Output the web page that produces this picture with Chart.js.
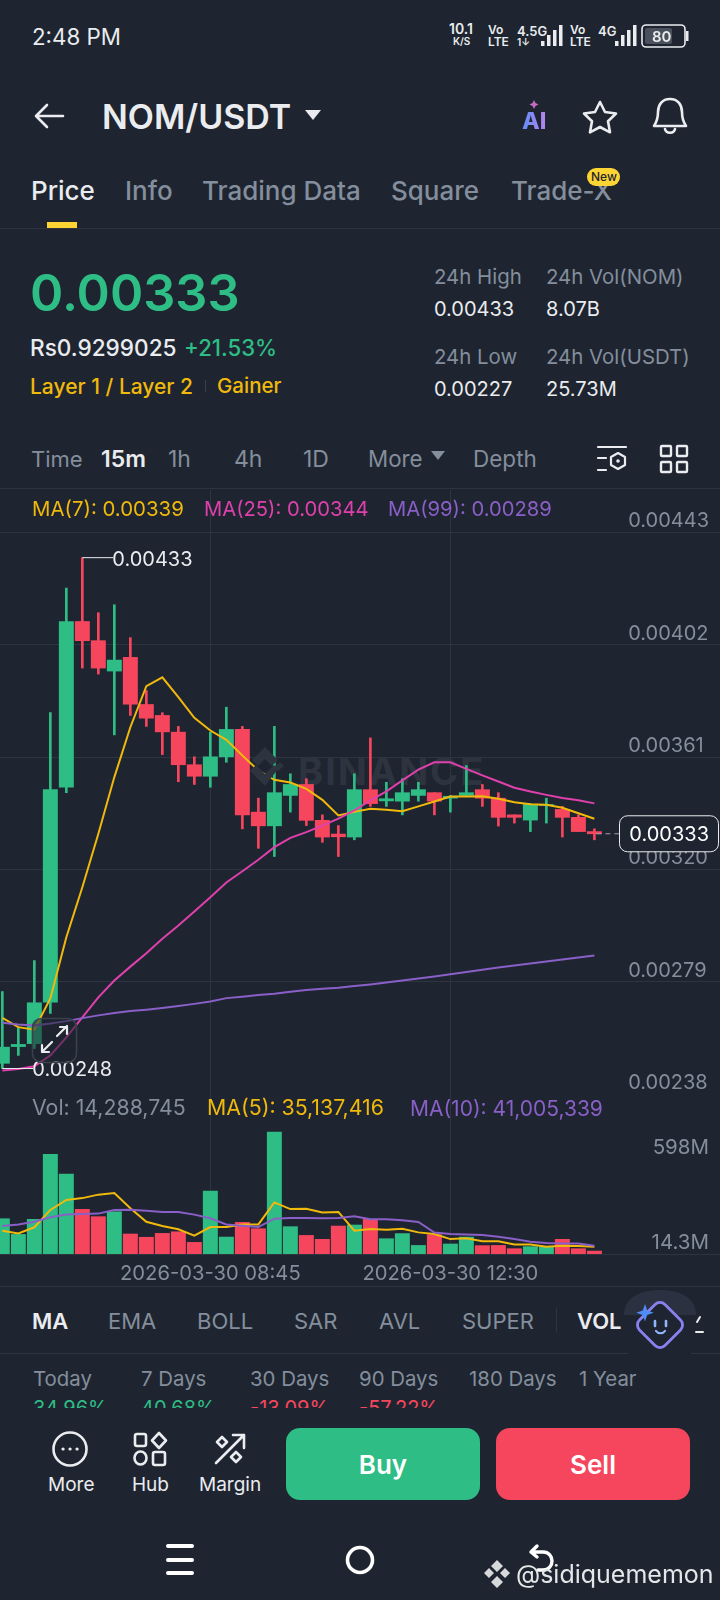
<!DOCTYPE html>
<html>
<head>
<meta charset="utf-8">
<script src="https://cdn.jsdelivr.net/npm/chart.js@4"></script>
<style>
  html, body { margin: 0; padding: 0; background: #1e2530; }
  body { position: relative; width: 720px; height: 1600px; overflow: hidden; font-family: Inter, sans-serif; color: #eaecef; }
  .t { position: absolute; white-space: nowrap; line-height: 1; transform: translateY(-50%); }
  .g { color: #848e9c; }
  .hr { position: absolute; left: 0; width: 720px; height: 1px; background: #2e3541; }
  canvas { position: absolute; left: 0; }
  svg.icons { position: absolute; left: 0; top: 0; }
</style>
</head>
<body>

<!-- status bar -->
<div class="t" style="left:32px;top:37px;font-size:22.300px;">2:48 PM</div>
<div class="t" style="left:449px;top:29px;font-size:14px;font-weight:600;">10.1</div>
<div class="t" style="left:453px;top:41px;font-size:10px;font-weight:600;">K/S</div>
<div class="t" style="left:488px;top:30px;font-size:12px;font-weight:600;">Vo</div>
<div class="t" style="left:488px;top:42px;font-size:12px;font-weight:600;">LTE</div>
<div class="t" style="left:517px;top:31px;font-size:13px;font-weight:600;">4.5G</div>
<div class="t" style="left:517px;top:42px;font-size:10px;font-weight:600;">1↓</div>
<div class="t" style="left:570px;top:30px;font-size:12px;font-weight:600;">Vo</div>
<div class="t" style="left:570px;top:42px;font-size:12px;font-weight:600;">LTE</div>
<div class="t" style="left:598px;top:31px;font-size:13px;font-weight:600;">4G</div>

<!-- title -->
<div class="t" style="left:102px;top:117px;font-size:34px;font-weight:600;">NOM/USDT</div>

<!-- tabs -->
<div class="t" style="left:31px;top:191px;font-size:26px;font-weight:500;">Price</div>
<div class="t g" style="left:125px;top:191px;font-size:26px;font-weight:500;">Info</div>
<div class="t g" style="left:202px;top:191px;font-size:26px;font-weight:500;">Trading Data</div>
<div class="t g" style="left:391px;top:191px;font-size:26px;font-weight:500;">Square</div>
<div class="t g" style="left:511px;top:191px;font-size:26px;font-weight:500;">Trade-X</div>
<div style="position:absolute;left:587px;top:168px;width:33px;height:18px;border-radius:9px;background:#fcd535;"></div>
<div class="t" style="left:591px;top:177px;font-size:12px;font-weight:500;color:#1e2329;">New</div>
<div style="position:absolute;left:47px;top:222px;width:30px;height:6px;background:#fcd535;"></div>
<div class="hr" style="top:228px;"></div>

<!-- price block -->
<div class="t" style="left:30px;top:293px;font-size:50.500px;font-weight:600;color:#2ebd85;">0.00333</div>
<div class="t" style="left:30px;top:348px;font-size:22.600px;font-weight:500;">Rs0.9299025</div>
<div class="t" style="left:184px;top:348px;font-size:22.200px;font-weight:500;color:#2ebd85;">+21.53%</div>
<div class="t" style="left:30px;top:386px;font-size:21px;font-weight:500;color:#f0b90b;">Layer 1 / Layer 2</div>
<div style="position:absolute;left:205px;top:380px;width:1px;height:12px;background:#3a414d;"></div>
<div class="t" style="left:217px;top:386px;font-size:20.500px;font-weight:500;color:#f0b90b;">Gainer</div>
<div class="t g" style="left:434px;top:277px;font-size:20.400px;">24h High</div>
<div class="t g" style="left:546px;top:277px;font-size:20.400px;">24h Vol(NOM)</div>
<div class="t" style="left:434px;top:309px;font-size:20px;">0.00433</div>
<div class="t" style="left:546px;top:309px;font-size:20px;">8.07B</div>
<div class="t g" style="left:434px;top:357px;font-size:20.400px;">24h Low</div>
<div class="t g" style="left:546px;top:357px;font-size:20.400px;">24h Vol(USDT)</div>
<div class="t" style="left:434px;top:389px;font-size:20px;">0.00227</div>
<div class="t" style="left:546px;top:389px;font-size:20px;">25.73M</div>

<!-- intervals -->
<div class="t g" style="left:31px;top:459px;font-size:22px;">Time</div>
<div class="t" style="left:101px;top:459px;font-size:23px;font-weight:600;">15m</div>
<div class="t g" style="left:168px;top:459px;font-size:23px;">1h</div>
<div class="t g" style="left:234px;top:459px;font-size:23px;">4h</div>
<div class="t g" style="left:303px;top:459px;font-size:23px;">1D</div>
<div class="t g" style="left:368px;top:459px;font-size:22.300px;">More</div>
<div class="t g" style="left:473px;top:459px;font-size:22.500px;">Depth</div>
<div class="hr" style="top:488px;"></div>

<!-- watermark under the price canvas -->
<div class="t" style="left:298px;top:771px;font-size:38px;font-weight:700;color:#2e343f;letter-spacing:2px;">BINANCE</div>

<canvas id="price" width="720" height="604" style="top:490px;width:720px;height:604px;"></canvas>
<canvas id="volume" width="720" height="192" style="top:1094px;width:720px;height:192px;"></canvas>

<!-- chart legends -->
<div class="t" style="left:32px;top:509px;font-size:20.400px;color:#f0b90b;">MA(7): 0.00339</div>
<div class="t" style="left:204px;top:509px;font-size:20.200px;color:#e040ac;">MA(25): 0.00344</div>
<div class="t" style="left:388px;top:509px;font-size:20.200px;color:#8a5fc8;">MA(99): 0.00289</div>
<div class="t g" style="left:32px;top:1108px;font-size:21.300px;">Vol: 14,288,745</div>
<div class="t" style="left:207px;top:1108px;font-size:21.300px;color:#f0b90b;">MA(5): 35,137,416</div>
<div class="t" style="left:410px;top:1108px;font-size:21px;color:#8a5fc8;">MA(10): 41,005,339</div>

<div class="hr" style="top:1286px;"></div>

<!-- indicators -->
<div class="t" style="left:32px;top:1321px;font-size:22px;font-weight:600;">MA</div>
<div class="t g" style="left:108px;top:1321px;font-size:22px;">EMA</div>
<div class="t g" style="left:197px;top:1321px;font-size:22px;">BOLL</div>
<div class="t g" style="left:294px;top:1321px;font-size:22px;">SAR</div>
<div class="t g" style="left:379px;top:1321px;font-size:22px;">AVL</div>
<div class="t g" style="left:462px;top:1321px;font-size:22px;">SUPER</div>
<div style="position:absolute;left:556px;top:1308px;width:1px;height:24px;background:#2e3541;"></div>
<div class="t" style="left:577px;top:1321px;font-size:22px;font-weight:600;">VOL</div>
<div class="hr" style="top:1353px;"></div>
<div style="position:absolute;left:628px;top:1340px;width:63px;height:20px;background:#1e2530;"></div>

<!-- returns row, second line cut by the bottom bar -->
<div class="t g" style="left:33px;top:1379px;font-size:20.400px;">Today</div>
<div class="t g" style="left:141px;top:1379px;font-size:20.400px;">7 Days</div>
<div class="t g" style="left:250px;top:1379px;font-size:20.400px;">30 Days</div>
<div class="t g" style="left:359px;top:1379px;font-size:20.400px;">90 Days</div>
<div class="t g" style="left:469px;top:1379px;font-size:20.400px;">180 Days</div>
<div class="t g" style="left:579px;top:1379px;font-size:20.400px;">1 Year</div>
<div style="position:absolute;left:0;top:1395px;width:720px;height:13px;overflow:hidden;">
  <div class="t" style="left:33px;top:13px;font-size:20px;color:#2ebd85;">34.96%</div>
  <div class="t" style="left:141px;top:13px;font-size:20px;color:#2ebd85;">40.68%</div>
  <div class="t" style="left:250px;top:13px;font-size:20px;color:#f6465d;">-13.09%</div>
  <div class="t" style="left:359px;top:13px;font-size:20px;color:#f6465d;">-57.22%</div>
  <div class="t" style="left:469px;top:13px;font-size:20px;">--</div>
  <div class="t" style="left:579px;top:13px;font-size:20px;">--</div>
</div>

<!-- bottom actions -->
<div class="t" style="left:48px;top:1484px;font-size:19px;">More</div>
<div class="t" style="left:132px;top:1484px;font-size:19px;">Hub</div>
<div class="t" style="left:199px;top:1484px;font-size:19px;">Margin</div>
<div style="position:absolute;left:286px;top:1428px;width:194px;height:72px;border-radius:14px;background:#2ebd85;"></div>
<div style="position:absolute;left:496px;top:1428px;width:194px;height:72px;border-radius:14px;background:#f6465d;"></div>
<div class="t" style="left:286px;width:194px;text-align:center;top:1465px;font-size:26px;font-weight:600;color:#fff;">Buy</div>
<div class="t" style="left:496px;width:194px;text-align:center;top:1465px;font-size:26px;font-weight:600;color:#fff;">Sell</div>

<svg class="icons" width="720" height="1600" viewBox="0 0 720 1600" fill="none" stroke="#eaecef" stroke-width="2.6" stroke-linecap="round" stroke-linejoin="round">
  <!-- signal bars -->
  <g stroke="none" fill="#eaecef">
    <rect x="541" y="41" width="3.5" height="5"/><rect x="547" y="35" width="3.5" height="11"/><rect x="553" y="30" width="3.5" height="16"/><rect x="559" y="25" width="3.5" height="21"/>
    <rect x="615" y="41" width="3.5" height="5"/><rect x="621" y="35" width="3.5" height="11"/><rect x="627" y="30" width="3.5" height="16"/><rect x="633" y="25" width="3.5" height="21"/>
    <rect x="686" y="31" width="2.5" height="10"/>
  </g>
  <rect x="642" y="25" width="43" height="22" rx="4" stroke-width="1.6"/>
  <rect x="645" y="28" width="27" height="16" rx="2" fill="#4a515c" stroke="none"/>
  <!-- header icons -->
  <path d="M63 116H36M47 105 36 116 47 127"/>
  <path d="M305 110h16l-8 10z" fill="#eaecef" stroke="none"/>
  <path d="M534 100l1.500 3 3 1.500-3 1.500-1.500 3-1.500-3-3-1.500 3-1.500z" fill="#c66cc0" stroke="none"/>
  <path d="M600 102l5 10 11 1.500-8 7.800 2 11-10-5.300-10 5.300 2-11-8-7.800 11-1.500z"/>
  <path d="M670 99c-8 0-12 6-12 13 0 7-2 11-4 14h32c-2-3-4-7-4-14 0-7-4-13-12-13zM665 129c1 5 9 5 10 0"/>
  <!-- chart tools -->
  <path d="M431 451h14l-7 9z" fill="#848e9c" stroke="none"/>
  <path d="M598 447h28M598 458h8M598 470h8M618 453l7 4v8l-7 4-7-4v-8z" stroke-width="2.200"/>
  <circle cx="618" cy="461" r="1.800" fill="#eaecef" stroke="none"/>
  <g stroke-width="2.400">
    <rect x="661" y="446" width="10" height="10" rx="1"/><rect x="677" y="446" width="10" height="10" rx="1"/>
    <rect x="661" y="462" width="10" height="10" rx="1"/><rect x="677" y="462" width="10" height="10" rx="1"/>
  </g>
  <!-- expand button on the chart -->
  <rect x="32.500" y="1018.500" width="44" height="44" rx="9" fill="#1e2530" fill-opacity="0.55" stroke="#3a414d" stroke-width="1.600"/>
  <path d="M57 1036l10-10M60 1027h7v7M52 1042l-10 10M49 1052h-7v-7" stroke-width="2.200"/>
  <!-- assistant bubble -->
  <path d="M624 1315c0-16 14-25 36-25s36 9 36 25z" fill="#2b3140" stroke="none"/>
  <rect x="642" y="1307" width="36" height="36" rx="7" transform="rotate(45 660 1325)" fill="#1e2530" stroke="#8b80f0" stroke-width="2.800"/>
  <path d="M645 1304l2.200 6.500 6.500 2.200-6.500 2.200-2.200 6.500-2.200-6.500-6.500-2.200 6.500-2.200z" fill="#4f8cf5" stroke="none"/>
  <path d="M655 1321v5M666 1321v5" stroke="#8fb5ff" stroke-width="2.600"/>
  <path d="M656 1331c2 3 7 3 9 0" stroke="#8fb5ff" stroke-width="2.200"/>
  <path d="M700 1317l-3 5M696 1332h7" stroke-width="2"/>
  <!-- bottom action icons -->
  <circle cx="70" cy="1449" r="16.500"/>
  <path d="M63 1449h.1M70 1449h.1M77 1449h.1" stroke-width="3.200"/>
  <rect x="135" y="1434" width="11" height="12" rx="2"/><path d="M159 1433l7 7.500-7 7.500-7-7.500z"/>
  <ellipse cx="140.500" cy="1458" rx="6" ry="6.500"/><rect x="153" y="1452" width="12" height="13" rx="2"/>
  <path d="M216 1463l28-28M233 1435h11v13"/>
  <path d="M222 1437l5 5-5 5-5-5zM236 1452l5 5-5 5-5-5z"/>
  <!-- navigation -->
  <path d="M168 1546h24M168 1560h24M168 1573h24" stroke="#fff" stroke-width="4"/>
  <circle cx="360" cy="1560" r="12.500" stroke="#fff" stroke-width="3.600"/>
  <path d="M531 1552h12c12 0 12 18 0 18h-5M537 1546l-6 6 6 5" stroke="#fff" stroke-width="3.400"/>
  <!-- author mark -->
  <g stroke="none" fill="#d6d8da">
    <path d="M497 1560l6 6-6 6-6-6zM489 1568l5 5-5 5-5-5zM505 1568l5 5-5 5-5-5zM497 1576l6 6-6 6-6-6z"/>
  </g>
  <g stroke="none" fill="#2e343f">
    <path d="M265 747l13 13-6 6-7-7-7 7-6-6zM250 771l6-6 9 9 9-9 4 4-13 17zM278 771l-4-4 6-5 4 4z"/>
  </g>
</svg>
<div class="t" style="left:652px;top:36px;font-size:15px;font-weight:600;">80</div>
<div class="t" style="left:522px;top:121px;font-size:23px;font-weight:800;background:linear-gradient(90deg,#5f8df5,#b784f0);-webkit-background-clip:text;background-clip:text;color:transparent;">AI</div>
<div class="t" style="left:516px;top:1574px;font-size:25px;color:#e4e6e8;">@sidiquememon</div>

<script>
// candles, one every 15 minutes
const times = ['05:30','05:45','06:00','06:15','06:30','06:45','07:00','07:15','07:30','07:45','08:00','08:15','08:30','08:45','09:00','09:15','09:30','09:45','10:00','10:15','10:30','10:45','11:00','11:15','11:30','11:45','12:00','12:15','12:30','12:45','13:00','13:15','13:30','13:45','14:00','14:15','14:30','14:45'];
const opens  = [0.002492,0.002553,0.002564,0.002715,0.003500,0.004105,0.004035,0.003924,0.003974,0.003802,0.003762,0.003701,0.003582,0.003540,0.003611,0.003711,0.003409,0.003359,0.003470,0.003510,0.003379,0.003329,0.003318,0.003491,0.003450,0.003449,0.003470,0.003480,0.003460,0.003470,0.003491,0.003460,0.003399,0.003380,0.003433,0.003419,0.003390,0.003338];
const closes = [0.002551,0.002561,0.002713,0.003491,0.004105,0.004035,0.003935,0.003964,0.003803,0.003752,0.003702,0.003582,0.003540,0.003611,0.003711,0.003399,0.003359,0.003480,0.003510,0.003379,0.003318,0.003319,0.003491,0.003440,0.003458,0.003480,0.003491,0.003449,0.003467,0.003480,0.003460,0.003390,0.003390,0.003437,0.003437,0.003390,0.003338,0.003330];
const highs  = [0.002754,0.002624,0.002867,0.003772,0.004227,0.004338,0.004137,0.004166,0.004046,0.003853,0.003772,0.003722,0.003611,0.003701,0.003792,0.003722,0.003460,0.003722,0.003549,0.003531,0.003399,0.003360,0.003549,0.003680,0.003518,0.003531,0.003518,0.003480,0.003470,0.003579,0.003510,0.003480,0.003399,0.003440,0.003460,0.003430,0.003399,0.003348];
const lows   = [0.002473,0.002521,0.002546,0.002674,0.003480,0.003935,0.003913,0.003691,0.003762,0.003722,0.003619,0.003520,0.003510,0.003500,0.003591,0.003348,0.003277,0.003247,0.003409,0.003360,0.003299,0.003247,0.003308,0.003430,0.003430,0.003399,0.003449,0.003399,0.003409,0.003470,0.003430,0.003358,0.003369,0.003338,0.003369,0.003318,0.003338,0.003308];
const ma7    = [0.002658,0.002624,0.002615,0.002729,0.002952,0.003135,0.003330,0.003537,0.003719,0.003869,0.003901,0.003829,0.003753,0.003707,0.003673,0.003616,0.003561,0.003527,0.003517,0.003494,0.003454,0.003397,0.003410,0.003421,0.003418,0.003412,0.003430,0.003448,0.003466,0.003466,0.003467,0.003458,0.003445,0.003438,0.003436,0.003425,0.003405,0.003385];
const ma25   = [0.002466,0.002471,0.002481,0.002521,0.002587,0.002660,0.002733,0.002794,0.002845,0.002894,0.002947,0.002995,0.003046,0.003098,0.003152,0.003193,0.003235,0.003281,0.003315,0.003336,0.003360,0.003385,0.003415,0.003452,0.003485,0.003525,0.003564,0.003591,0.003591,0.003567,0.003543,0.003521,0.003498,0.003484,0.003472,0.003461,0.003452,0.003441];
const ma99   = [0.002640,0.002634,0.002630,0.002637,0.002646,0.002657,0.002667,0.002676,0.002683,0.002688,0.002694,0.002701,0.002709,0.002718,0.002730,0.002735,0.002741,0.002746,0.002753,0.002760,0.002764,0.002768,0.002774,0.002780,0.002787,0.002794,0.002802,0.002809,0.002817,0.002825,0.002834,0.002842,0.002849,0.002856,0.002864,0.002871,0.002878,0.002886];

// volume in millions
const volumes = [173,96,170,488,392,219,183,207,98,82,101,109,57,309,83,155,124,598,134,91,72,137,142,170,75,100,42,95,49,83,41,42,26,36,33,72,26,14.288745];
const volMa5  = [114,101,131,216,265,274,291,299,224,158,137,121,90,132,132,144,145,253,220,222,204,206,114,122,119,124,106,98,73,77,62,62,47,46,36,41,39,35.137416];
const volMa10 = [137,145,158,180,194,196,198,216,217,212,206,206,193,175,145,139,132,173,176,176,175,176,185,170,170,165,157,105,98,96,93,85,73,60,54,52,51,41.005339];

// axis ticks
const priceTicks = [0.00238,0.00279,0.00320,0.00361,0.00402,0.00443];
const volTickLabels = [[598,'598M',16],[14.3,'14.3M',-8]];
const timeTicks = [13,28];
const tradeDate = '2026-03-30';
const highLabel = '0.00433';
const lowLabel = '0.00248';
const lastPrice = 0.00333;
const lastPriceLabel = '0.00333';

const UP = '#2ebd85', DOWN = '#f6465d', GRID = '#2e3541';
const YELLOW = '#f0b90b', PINK = '#e040ac', PURPLE = '#8a5fc8';
const candleColors = opens.map((o, i) => closes[i] >= o ? UP : DOWN);
const indexes = times.map((_, i) => i);

const line = (data, color) => ({
  type: 'line',
  data: data.map((y, i) => ({ x: i, y })),
  borderColor: color,
  borderWidth: 2,
  pointRadius: 0,
  tension: 0,
  order: 1
});

// x range so that candle 0 sits at 2.3px and candles are 16px apart
const xRange = { min: -0.146, max: 44.85 };

// the panes fill their canvas edge to edge
const noPadding = scale => {
  scale.paddingLeft = scale.paddingRight = scale.paddingTop = scale.paddingBottom = 0;
};

const annotations = {
  id: 'annotations',
  afterDraw(chart) {
    const { ctx } = chart;
    const x = chart.scales.x, y = chart.scales.y;
    ctx.save();
    ctx.font = '20px Inter';
    ctx.textBaseline = 'middle';
    ctx.lineWidth = 1;

    // highest and lowest price markers
    const hx = x.getPixelForValue(5), hy = y.getPixelForValue(highs[5]);
    ctx.strokeStyle = '#eaecef';
    ctx.beginPath();
    ctx.moveTo(hx, hy); ctx.lineTo(hx + 31, hy);
    const lx = x.getPixelForValue(0), ly = y.getPixelForValue(lows[0]);
    ctx.moveTo(lx, ly); ctx.lineTo(lx + 31, ly);
    ctx.stroke();
    ctx.fillStyle = '#eaecef';
    ctx.textAlign = 'left';
    ctx.fillText(highLabel, hx + 30, hy + 2);
    ctx.fillText(lowLabel, lx + 30, ly + 1);

    // last price
    const py = y.getPixelForValue(lastPrice);
    ctx.strokeStyle = '#9aa1ac';
    ctx.setLineDash([5, 4]);
    ctx.beginPath();
    ctx.moveTo(x.getPixelForValue(37) + 2, py); ctx.lineTo(619, py);
    ctx.stroke();
    ctx.setLineDash([]);
    ctx.beginPath();
    ctx.roundRect(619.5, py - 18, 99, 36, 8);
    ctx.fillStyle = '#1e2530';
    ctx.fill();
    ctx.strokeStyle = '#eaecef';
    ctx.stroke();
    ctx.fillStyle = '#ffffff';
    ctx.textAlign = 'right';
    ctx.fillText(lastPriceLabel, 709, py + 1);
    ctx.restore();
  }
};

new Chart(document.getElementById('price'), {
  data: {
    datasets: [
      {
        type: 'bar',
        data: indexes.map(i => ({ x: i, y: [lows[i], highs[i]] })),
        backgroundColor: candleColors,
        barThickness: 2,
        grouped: false,
        order: 3
      },
      {
        type: 'bar',
        data: indexes.map(i => ({ x: i, y: [opens[i], closes[i]] })),
        backgroundColor: candleColors,
        barThickness: 14.3,
        grouped: false,
        order: 2
      },
      line(ma99, PURPLE),
      line(ma25, PINK),
      line(ma7, YELLOW)
    ]
  },
  options: {
    responsive: false,
    animation: false,
    layout: { padding: 0 },
    plugins: { legend: { display: false }, tooltip: { enabled: false } },
    scales: {
      x: {
        type: 'linear',
        offset: false,
        ...xRange,
        afterBuildTicks: scale => { scale.ticks = timeTicks.map(value => ({ value })); },
        afterFit: scale => { noPadding(scale); scale.height = 0; },
        border: { display: false },
        grid: { color: GRID, drawTicks: false, offset: false },
        ticks: { display: false }
      },
      y: {
        position: 'right',
        min: 0.00238,
        max: 0.004585,
        afterBuildTicks: scale => { scale.ticks = priceTicks.map(value => ({ value })); },
        afterFit: scale => { noPadding(scale); scale.width = 0; },
        border: { display: false },
        grid: { color: GRID, drawTicks: false },
        ticks: {
          mirror: true,
          crossAlign: 'far',
          padding: -11,
          labelOffset: -11,
          color: '#848e9c',
          font: { family: 'Inter', size: 20 },
          callback: value => value.toFixed(5)
        }
      }
    }
  },
  plugins: [annotations]
});

const volAxisLabels = {
  id: 'volAxisLabels',
  afterDraw(chart) {
    const { ctx } = chart;
    ctx.save();
    ctx.font = '20.5px Inter';
    ctx.fillStyle = '#848e9c';
    ctx.textAlign = 'right';
    ctx.textBaseline = 'middle';
    volTickLabels.forEach(([value, text, shift]) => {
      ctx.fillText(text, 709, chart.scales.y.getPixelForValue(value) + shift);
    });
    ctx.restore();
  }
};

new Chart(document.getElementById('volume'), {
  data: {
    datasets: [
      {
        type: 'bar',
        data: indexes.map(i => ({ x: i, y: volumes[i] })),
        backgroundColor: candleColors,
        barThickness: 14.3,
        grouped: false,
        order: 2
      },
      line(volMa10, PURPLE),
      line(volMa5, YELLOW)
    ]
  },
  options: {
    responsive: false,
    animation: false,
    layout: { padding: 0 },
    plugins: { legend: { display: false }, tooltip: { enabled: false } },
    scales: {
      x: {
        type: 'linear',
        offset: false,
        ...xRange,
        afterBuildTicks: scale => { scale.ticks = timeTicks.map(value => ({ value })); },
        afterFit: scale => { noPadding(scale); scale.height = 32; },
        border: { display: true, color: GRID },
        grid: { color: GRID, drawTicks: false, offset: false },
        ticks: {
          padding: 8,
          maxRotation: 0,
          autoSkip: false,
          color: '#848e9c',
          font: { family: 'Inter', size: 20.2 },
          callback: value => tradeDate + ' ' + times[value]
        }
      },
      y: {
        position: 'right',
        min: 0,
        max: 784.3,
        afterFit: scale => { noPadding(scale); scale.width = 0; },
        border: { display: false },
        grid: { display: false },
        ticks: { display: false }
      }
    }
  },
  plugins: [volAxisLabels]
});
</script>
</body>
</html>
